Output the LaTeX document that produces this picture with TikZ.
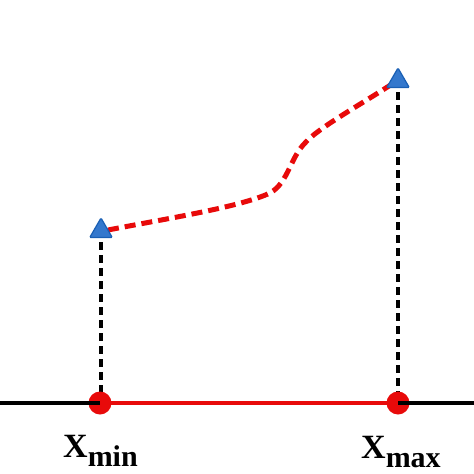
\documentclass[tikz,border=0pt]{standalone}
\usepackage{fontspec}
\setmainfont{Liberation Serif}
\usetikzlibrary{shapes.geometric}
\begin{document}
\definecolor{redc}{RGB}{232,10,10}
\definecolor{bluef}{RGB}{52,120,205}
\definecolor{blued}{RGB}{25,95,180}
\begin{tikzpicture}[x=1pt,y=-1pt,
  axisline/.style={line width=4pt,black},
  redseg/.style={line width=3.5pt,redc},
  dotc/.style={circle,fill=redc,minimum size=23pt,inner sep=0pt},
  tri/.style={regular polygon,regular polygon sides=3,fill=bluef,draw=blued,line width=1.2pt,rounded corners=1pt,minimum size=26pt,inner sep=0pt},
  vdash/.style={line width=3.5pt,black,dash pattern=on 8pt off 5pt},
  rdash/.style={line width=5pt,redc,dash pattern=on 11pt off 6pt},
  lab/.style={font=\bfseries\fontsize{34}{36}\selectfont,inner sep=0pt,anchor=base west}]
\useasboundingbox (0,0) rectangle (474,474);
\coordinate (L) at (0,403);
\coordinate (R) at (474,403);
\coordinate (b1) at (101,242);
\coordinate (b2) at (398,92);
\draw[vdash] (b1) -- (101,392);
\draw[vdash] (b2) -- (398,392);
\node[dotc] (d1) at (100,403) {};
\node[dotc] (d2) at (398,403) {};
\draw[axisline] (L) -- (d1.center);
\draw[axisline] (d2.center) -- (R);
\draw[redseg] (d1.center) -- (d2.center);
\draw[rdash] (108,230) .. controls (170,218) and (240,207) .. (270,193)
  .. controls (288,183) and (290,158) .. (305,143)
  .. controls (318,128) and (360,105) .. (392,84);
\node[tri] (t1) at (101,231) {};
\node[tri] (t2) at (398,81) {};
\node[lab] (x1) at (63,457) {X\raisebox{-9pt}{\fontsize{30}{32}\selectfont min}};
\node[lab] (x2) at (361,458) {X\raisebox{-9pt}{\fontsize{30}{32}\selectfont max}};
\end{tikzpicture}
\end{document}
